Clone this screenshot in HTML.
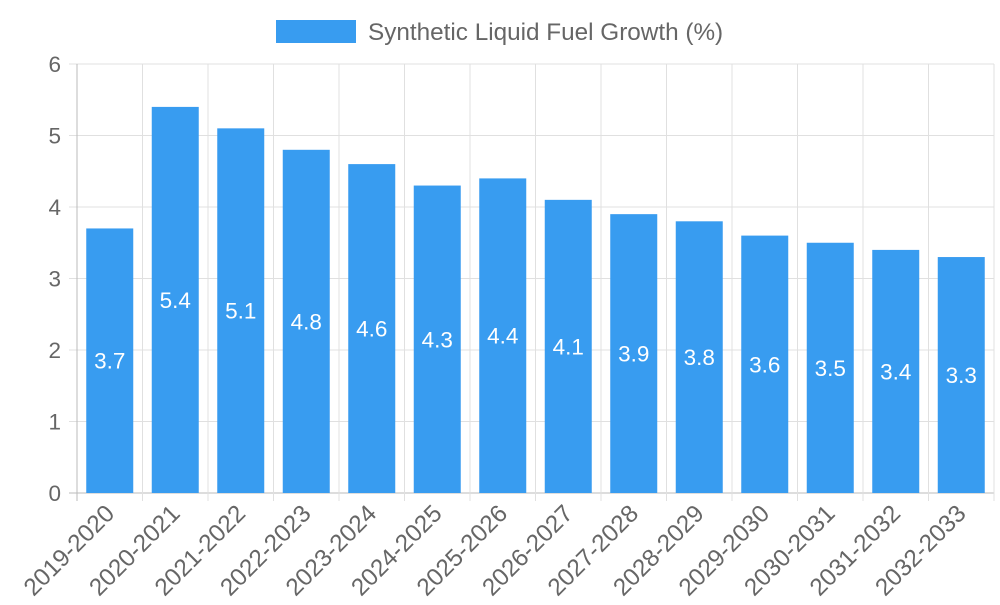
<!DOCTYPE html>
<html><head><meta charset="utf-8"><style>
body{margin:0;background:#fff;width:1000px;height:600px;overflow:hidden}
text{font-family:"Liberation Sans",sans-serif}
</style></head><body>
<svg id="chart" width="1000" height="600" xmlns="http://www.w3.org/2000/svg">
<g id="legend">
<rect x="276" y="20" width="80" height="23" fill="#389cf0"/>
<text x="368" y="40" font-size="24.3" fill="#666">Synthetic Liquid Fuel Growth (%)</text>
</g>
<g id="grid"></g><g id="bars"></g><g id="labels"></g>
</svg>
<script>
const categories=["2019-2020","2020-2021","2021-2022","2022-2023","2023-2024","2024-2025","2025-2026","2026-2027","2027-2028","2028-2029","2029-2030","2030-2031","2031-2032","2032-2033"];
const values=[3.7,5.4,5.1,4.8,4.6,4.3,4.4,4.1,3.9,3.8,3.6,3.5,3.4,3.3];
const yTicks=[0,1,2,3,4,5,6];
const NS="http://www.w3.org/2000/svg";
const L=77,R=994,T=64,B=493,yMax=6;
const bw=(R-L)/categories.length;
const y=v=>B-(v/yMax)*(B-T);
const x=i=>L+bw*i;
function mk(tag,attrs,parent){const e=document.createElementNS(NS,tag);for(const k in attrs)e.setAttribute(k,attrs[k]);parent.appendChild(e);return e;}
const grid=document.getElementById('grid'),bars=document.getElementById('bars'),labels=document.getElementById('labels');
yTicks.forEach(t=>{
  const l=mk('line',{x1:L-8,x2:R,y1:y(t),y2:y(t),stroke:t===0?'#bbb':'#e0e0e0','stroke-width':1},grid);
  
  
  const tx=mk('text',{x:L-16,y:y(t)+8,'font-size':22.5,fill:'#666','text-anchor':'end'},grid);
  tx.textContent=t;
  
  
});
for(let i=0;i<=categories.length;i++){
  const l=mk('line',{x1:x(i),x2:x(i),y1:T,y2:B+8,stroke:i===0?'#bbb':'#e0e0e0','stroke-width':1},grid);
  
  
}
categories.forEach((c,i)=>{
  const cx=x(i)+bw/2,w=47;
  const r=mk('rect',{x:cx-w/2,y:y(values[i]),width:w,height:B-y(values[i]),fill:'#389cf0'},bars);
  
  
  const v=mk('text',{x:cx,y:(y(values[i])+B)/2+8,'font-size':22.5,fill:'#fff','text-anchor':'middle'},labels);
  v.textContent=values[i];
  
  
  const xl=mk('text',{x:cx+6,y:B+22,'font-size':24.3,fill:'#666','text-anchor':'end',transform:`rotate(-45 ${cx+6} ${B+22})`},labels);
  xl.textContent=c;
  
  
});
</script>
</body></html>
